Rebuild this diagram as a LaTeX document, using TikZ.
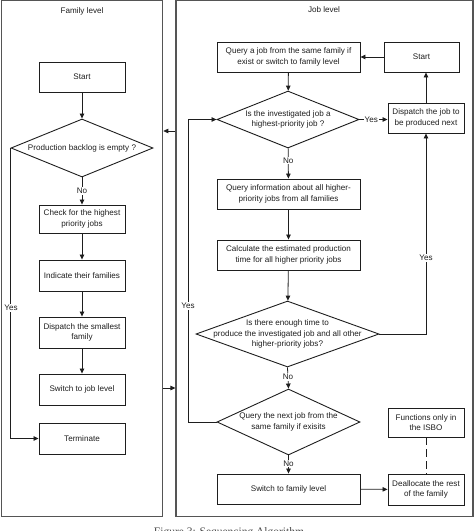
\documentclass[tikz,border=0pt]{standalone}
\usepackage{fontspec}
\setmainfont{Liberation Sans}
\newfontfamily\capfont{Liberation Serif}
\usetikzlibrary{arrows.meta,shapes.geometric}
\definecolor{ink}{HTML}{1E1E1E}
\definecolor{panelc}{HTML}{555555}
\newcommand\myfs{\fontsize{8.1}{10.6}\selectfont}
\tikzset{
 panel/.style={draw=panelc, line width=1.6pt, inner sep=0pt},
 box/.style={draw=ink, line width=0.9pt, align=center, font=\myfs, text=ink, inner sep=1pt, minimum height=30pt},
 dia/.style={draw=ink, line width=0.9pt, shape=diamond, inner sep=0pt},
 dlab/.style={align=center, font=\myfs, text=ink, inner sep=0pt},
 arr/.style={draw=ink, line width=0.8pt, -{Triangle[length=5pt,width=4.5pt]}},
 con/.style={draw=ink, line width=0.8pt},
 lbl/.style={fill=white, font=\myfs, text=ink, inner sep=1pt},
 ttl/.style={font=\myfs, text=ink},
}
\begin{document}
\begin{tikzpicture}[x=1pt,y=-1pt]
\useasboundingbox (0,0) rectangle (474,531);
% panels
\node[panel, minimum width=161pt, minimum height=516pt] (famP) at (82,258.5) {};
\node[panel, minimum width=296.5pt, minimum height=516pt] (jobP) at (324.5,258.5) {};
\node[ttl] (famT) at (82,11) {Family level};
\node[ttl] (jobT) at (324,10) {Job level};
% family level
\node[box, minimum width=86pt] (fstart) at (82,77) {Start};
\node[dia, minimum width=142pt, minimum height=58pt, label={[dlab]center:{Production backlog is empty ?}}] (fdec) at (82,148) {};
\node[box, minimum width=86pt, minimum height=28pt] (fcheck) at (82,219) {Check for the highest\\priority jobs};
\node[box, minimum width=86pt, minimum height=31pt] (findic) at (82,275.5) {Indicate their families};
\node[box, minimum width=86pt, minimum height=31pt] (fdisp) at (82,332.5) {Dispatch the smallest\\family};
\node[box, minimum width=86pt, minimum height=31pt] (fswitch) at (82,389.5) {Switch to job level};
\node[box, minimum width=86pt, minimum height=31pt] (fterm) at (82,438.5) {Terminate};
\draw[arr] (fstart) -- (fdec);
\draw[arr] (fdec) -- node[lbl, pos=0.5] {No} (fcheck);
\draw[arr] (fcheck) -- (findic);
\draw[arr] (findic) -- (fdisp);
\draw[arr] (fdisp) -- (fswitch);
\draw[arr] (fdec.west) -- (fdec.west |- fterm.west) -- (fterm.west);
\node[lbl] (fyes) at (11,308) {Yes};
% job level
\node[box, minimum width=143pt] (jquery) at (288.5,57) {Query a job from the same family if\\exist or switch to family level};
\node[box, minimum width=75pt] (jstart) at (421.5,57) {Start};
\node[dia, minimum width=142pt, minimum height=57pt, label={[dlab]center:{Is the investigated job a\\highest-priority job ?}}] (jdec1) at (288,119.5) {};
\node[box, minimum width=76pt] (jdisp) at (426,118) {Dispatch the job to\\be produced next};
\node[box, minimum width=143pt] (jinfo) at (288.5,194) {Query information about all higher-\\priority jobs from all families};
\node[box, minimum width=143pt] (jcalc) at (288.5,255) {Calculate the estimated production\\time for all higher priority jobs};
\node[dia, minimum width=183pt, minimum height=66pt, label={[dlab]center:{Is there enough time to\\produce the investigated job and all other\\higher-priority jobs?}}] (jdec2) at (287.5,334) {};
\node[dia, minimum width=143pt, minimum height=66pt, label={[dlab]center:{Query the next job from the\\same family if exisits}}] (jdec3) at (288.5,422) {};
\node[box, minimum width=143pt] (jswitch) at (288.5,489) {Switch to family level};
\node[box, minimum width=76pt, minimum height=31pt] (jdeal) at (426,489.5) {Deallocate the rest\\of the family};
\node[box, minimum width=76pt, minimum height=29pt] (jisbo) at (426,422.5) {Functions only in\\the ISBO};
\coordinate (loopx) at (188,0);
\draw[arr] (jstart) -- (jquery);
\draw[arr] (jquery) -- (jdec1);
\draw[arr] (jdec1.east) -- node[lbl, pos=0.42] {Yes} (jdec1.east -| jdisp.west);
\draw[arr] (jdisp.north) -- (jdisp.north |- jstart.south);
\draw[arr] (jdec1) -- node[lbl, pos=0.4] {No} (jinfo);
\draw[arr] (jinfo) -- (jcalc);
\draw[arr] (jcalc) -- (jdec2);
\draw[arr] (jdec2.east) -- (jdec2.east -| jdisp.south) -- (jdisp.south);
\node[lbl] (jyes2) at (426,258) {Yes};
\draw[arr] (jdec2.south) -- node[lbl, pos=0.45] {No} (jdec3.north);
\draw[arr] (jdec3.south) -- node[lbl, pos=0.45] {No} (jswitch.north);
\draw[arr] (jdec3.west) -- (jdec3.west -| loopx) -- (jdec1.west -| loopx) -- (jdec1.west);
\node[lbl] (jyes3) at (188,306) {Yes};
\draw[arr] (jswitch) -- (jdeal);
\draw[con, dash pattern=on 8pt off 4pt] (jisbo) -- (jdeal);
% between panels
\draw[arr] (jobP.west |- 0,131) -- (famP.east |- 0,131);
\draw[arr] (famP.east |- 0,388) -- (jobP.west |- 0,388);
% caption (cut by the page edge, as in the reference)
\node[anchor=north, inner sep=0pt, font=\capfont\fontsize{11.5}{13}\selectfont, text=ink!80] (cap) at (229,527) {Figure 3: Sequencing Algorithm};
\end{tikzpicture}
\end{document}
